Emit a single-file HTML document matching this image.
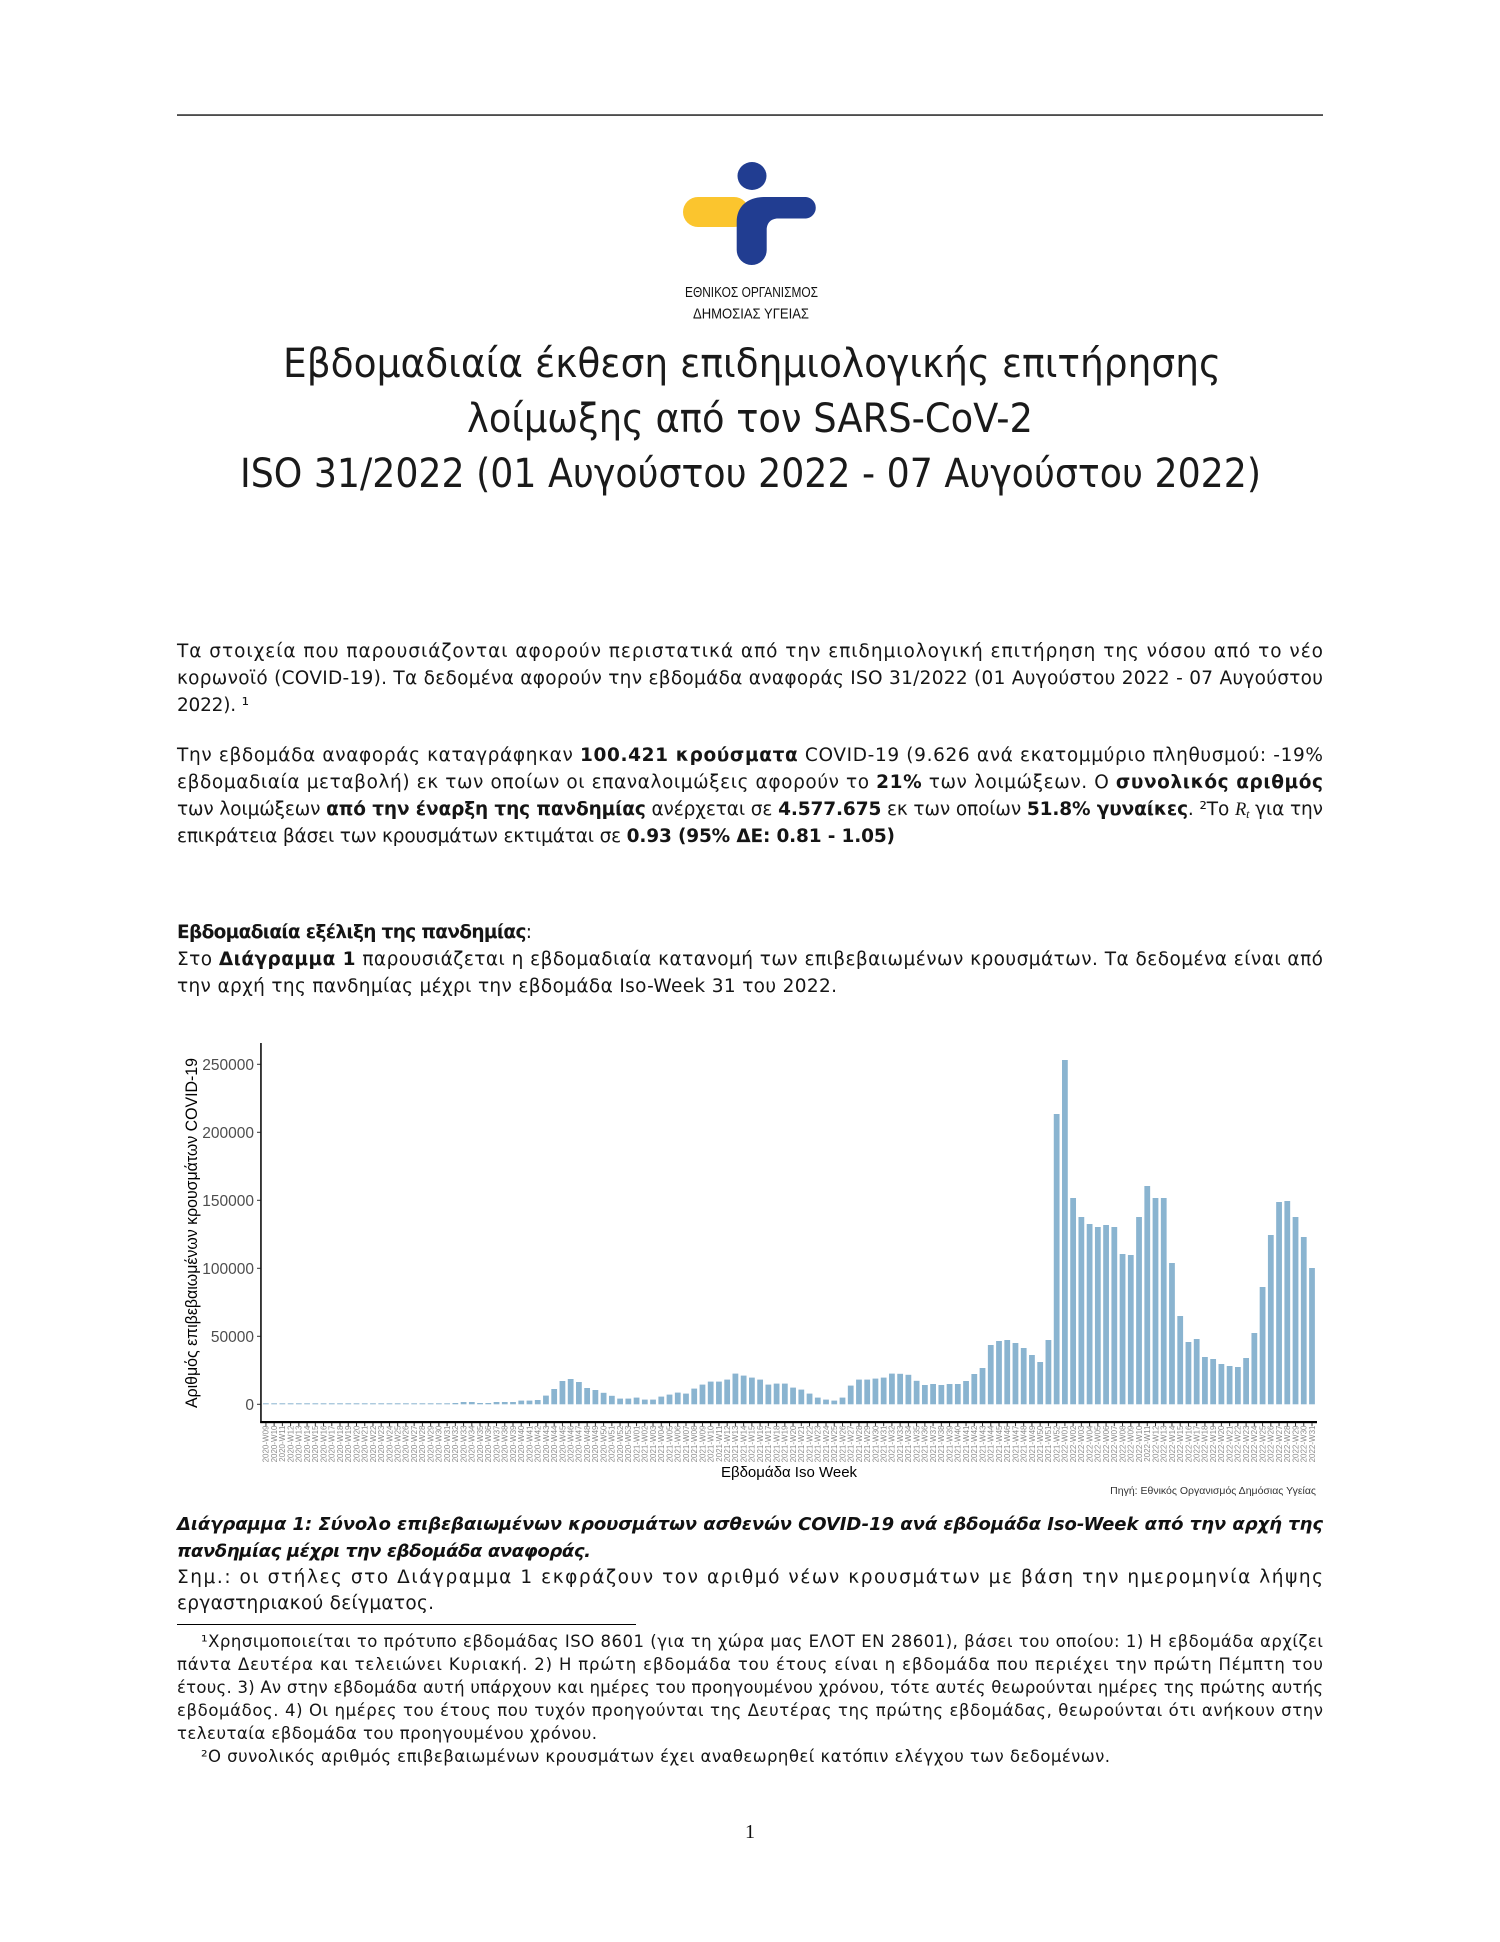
<!DOCTYPE html>
<html>
<head>
<meta charset="utf-8">
<style>
html,body{margin:0;padding:0;background:#fff;}
svg{display:block;}
</style>
</head>
<body>
<svg xmlns="http://www.w3.org/2000/svg" width="1500" height="1942" viewBox="0 0 1500 1942">
<rect x="0" y="0" width="1500" height="1942" fill="#fff"/>
<!-- top rule -->
<rect x="177" y="114.4" width="1146" height="1.3" fill="#000"/>

<!-- logo -->
<rect x="683" y="197" width="66" height="30" rx="15" fill="#fbc52e"/>
<path d="M736.7,255 L736.7,222 C736.7,206 748,197 765,197 L806,197 A10.8,10.8 0 0 1 806,218.5 L778,218.5 C771,218.5 766.7,223 766.7,230 L766.7,250 A15,15 0 0 1 736.7,250 Z" fill="#213d91"/>
<ellipse cx="752" cy="176" rx="14.5" ry="14" fill="#213d91"/>
<text x="685" y="297" font-family="'Liberation Sans',sans-serif" font-size="14.5" fill="#111" textLength="133" lengthAdjust="spacingAndGlyphs">ΕΘΝΙΚΟΣ ΟΡΓΑΝΙΣΜΟΣ</text>
<text x="693" y="318.5" font-family="'Liberation Sans',sans-serif" font-size="14.5" fill="#111" textLength="116" lengthAdjust="spacingAndGlyphs">ΔΗΜΟΣΙΑΣ ΥΓΕΙΑΣ</text>

<!-- title -->
<g font-family="'DejaVu Sans',sans-serif" font-size="40" fill="#1a1a1a">
<text x="283" y="377" textLength="938" lengthAdjust="spacingAndGlyphs">Εβδομαδιαία έκθεση επιδημιολογικής επιτήρησης</text>
<text x="467" y="432" textLength="566" lengthAdjust="spacingAndGlyphs">λοίμωξης από τον SARS-CoV-2</text>
<text x="240" y="487" textLength="1021" lengthAdjust="spacingAndGlyphs">ISO 31/2022 (01 Αυγούστου 2022 - 07 Αυγούστου 2022)</text>
</g>

<!-- body text -->
<g font-family="'DejaVu Sans',sans-serif" font-size="18.5" fill="#151515">
<text x="177" y="657" textLength="1146" lengthAdjust="spacing">Τα στοιχεία που παρουσιάζονται αφορούν περιστατικά από την επιδημιολογική επιτήρηση της νόσου από το νέο</text>
<text x="177" y="684" textLength="1146" lengthAdjust="spacing">κορωνοϊό (COVID-19). Τα δεδομένα αφορούν την εβδομάδα αναφοράς ISO 31/2022 (01 Αυγούστου 2022 - 07 Αυγούστου</text>
<text x="177" y="711" textLength="72" lengthAdjust="spacing">2022). ¹</text>

<text x="177" y="761" textLength="1146" lengthAdjust="spacing">Την εβδομάδα αναφοράς καταγράφηκαν <tspan font-weight="bold">100.421 κρούσματα</tspan> COVID-19 (9.626 ανά εκατομμύριο πληθυσμού: -19%</text>
<text x="177" y="788" textLength="1146" lengthAdjust="spacing">εβδομαδιαία μεταβολή) εκ των οποίων οι επαναλοιμώξεις αφορούν το <tspan font-weight="bold">21%</tspan> των λοιμώξεων. Ο <tspan font-weight="bold">συνολικός αριθμός</tspan></text>
<text x="177" y="815" textLength="1146" lengthAdjust="spacing">των λοιμώξεων <tspan font-weight="bold">από την έναρξη της πανδημίας</tspan> ανέρχεται σε <tspan font-weight="bold">4.577.675</tspan> εκ των οποίων <tspan font-weight="bold">51.8% γυναίκες</tspan>. ²Το <tspan font-family="'Liberation Serif',serif" font-style="italic">R</tspan><tspan font-family="'Liberation Serif',serif" font-style="italic" font-size="12" dy="3">t</tspan><tspan dy="-3"> για την</tspan></text>
<text x="177" y="842" textLength="718" lengthAdjust="spacing">επικράτεια βάσει των κρουσμάτων εκτιμάται σε <tspan font-weight="bold">0.93 (95% ΔΕ: 0.81 - 1.05)</tspan></text>

<text x="177" y="938" textLength="355" lengthAdjust="spacing"><tspan font-weight="bold">Εβδομαδιαία εξέλιξη της πανδημίας</tspan>:</text>
<text x="177" y="965" textLength="1146" lengthAdjust="spacing">Στο <tspan font-weight="bold">Διάγραμμα 1</tspan> παρουσιάζεται η εβδομαδιαία κατανομή των επιβεβαιωμένων κρουσμάτων. Τα δεδομένα είναι από</text>
<text x="177" y="992" textLength="660" lengthAdjust="spacing">την αρχή της πανδημίας μέχρι την εβδομάδα Iso-Week 31 του 2022.</text>
</g>

<!-- chart -->
<g fill="#8ab4d0">
<rect x="263.02" y="1403.3" width="5.77" height="1"/>
<rect x="271.25" y="1403.3" width="5.77" height="1"/>
<rect x="279.49" y="1403.3" width="5.77" height="1"/>
<rect x="287.73" y="1403.3" width="5.77" height="1"/>
<rect x="295.96" y="1403.3" width="5.77" height="1"/>
<rect x="304.20" y="1403.3" width="5.77" height="1"/>
<rect x="312.44" y="1403.3" width="5.77" height="1"/>
<rect x="320.67" y="1403.3" width="5.77" height="1"/>
<rect x="328.91" y="1403.3" width="5.77" height="1"/>
<rect x="337.15" y="1403.3" width="5.77" height="1"/>
<rect x="345.39" y="1403.3" width="5.77" height="1"/>
<rect x="353.62" y="1403.3" width="5.77" height="1"/>
<rect x="361.86" y="1403.3" width="5.77" height="1"/>
<rect x="370.10" y="1403.3" width="5.77" height="1"/>
<rect x="378.33" y="1403.3" width="5.77" height="1"/>
<rect x="386.57" y="1403.3" width="5.77" height="1"/>
<rect x="394.81" y="1403.3" width="5.77" height="1"/>
<rect x="403.04" y="1403.3" width="5.77" height="1"/>
<rect x="411.28" y="1403.3" width="5.77" height="1"/>
<rect x="419.52" y="1403.3" width="5.77" height="1"/>
<rect x="427.76" y="1403.3" width="5.77" height="1"/>
<rect x="435.99" y="1403.3" width="5.77" height="1"/>
<rect x="444.23" y="1403.3" width="5.77" height="1"/>
<rect x="452.47" y="1403.0" width="5.77" height="1.3"/>
<rect x="460.70" y="1402.0" width="5.77" height="2.3"/>
<rect x="468.94" y="1402.0" width="5.77" height="2.3"/>
<rect x="477.18" y="1403.0" width="5.77" height="1.3"/>
<rect x="485.41" y="1403.0" width="5.77" height="1.3"/>
<rect x="493.65" y="1402.0" width="5.77" height="2.3"/>
<rect x="501.89" y="1402.0" width="5.77" height="2.3"/>
<rect x="510.13" y="1402.0" width="5.77" height="2.3"/>
<rect x="518.36" y="1400.6" width="5.77" height="3.7"/>
<rect x="526.60" y="1400.6" width="5.77" height="3.7"/>
<rect x="534.84" y="1400.0" width="5.77" height="4.3"/>
<rect x="543.07" y="1395.6" width="5.77" height="8.7"/>
<rect x="551.31" y="1389.0" width="5.77" height="15.3"/>
<rect x="559.55" y="1381.0" width="5.77" height="23.3"/>
<rect x="567.78" y="1379.0" width="5.77" height="25.3"/>
<rect x="576.02" y="1382.0" width="5.77" height="22.3"/>
<rect x="584.26" y="1388.0" width="5.77" height="16.3"/>
<rect x="592.50" y="1390.0" width="5.77" height="14.3"/>
<rect x="600.73" y="1392.8" width="5.77" height="11.5"/>
<rect x="608.97" y="1395.8" width="5.77" height="8.5"/>
<rect x="617.21" y="1398.6" width="5.77" height="5.7"/>
<rect x="625.44" y="1398.6" width="5.77" height="5.7"/>
<rect x="633.68" y="1397.6" width="5.77" height="6.7"/>
<rect x="641.92" y="1399.6" width="5.77" height="4.7"/>
<rect x="650.15" y="1399.6" width="5.77" height="4.7"/>
<rect x="658.39" y="1396.6" width="5.77" height="7.7"/>
<rect x="666.63" y="1394.6" width="5.77" height="9.7"/>
<rect x="674.87" y="1392.6" width="5.77" height="11.7"/>
<rect x="683.10" y="1393.6" width="5.77" height="10.7"/>
<rect x="691.34" y="1388.6" width="5.77" height="15.7"/>
<rect x="699.58" y="1384.6" width="5.77" height="19.7"/>
<rect x="707.81" y="1381.6" width="5.77" height="22.7"/>
<rect x="716.05" y="1381.6" width="5.77" height="22.7"/>
<rect x="724.29" y="1379.6" width="5.77" height="24.7"/>
<rect x="732.52" y="1373.6" width="5.77" height="30.7"/>
<rect x="740.76" y="1375.6" width="5.77" height="28.7"/>
<rect x="749.00" y="1377.6" width="5.77" height="26.7"/>
<rect x="757.24" y="1379.6" width="5.77" height="24.7"/>
<rect x="765.47" y="1384.6" width="5.77" height="19.7"/>
<rect x="773.71" y="1383.6" width="5.77" height="20.7"/>
<rect x="781.95" y="1383.6" width="5.77" height="20.7"/>
<rect x="790.18" y="1387.6" width="5.77" height="16.7"/>
<rect x="798.42" y="1389.6" width="5.77" height="14.7"/>
<rect x="806.66" y="1393.6" width="5.77" height="10.7"/>
<rect x="814.89" y="1397.6" width="5.77" height="6.7"/>
<rect x="823.13" y="1399.6" width="5.77" height="4.7"/>
<rect x="831.37" y="1400.6" width="5.77" height="3.7"/>
<rect x="839.61" y="1397.6" width="5.77" height="6.7"/>
<rect x="847.84" y="1385.6" width="5.77" height="18.7"/>
<rect x="856.08" y="1379.6" width="5.77" height="24.7"/>
<rect x="864.32" y="1379.6" width="5.77" height="24.7"/>
<rect x="872.55" y="1378.6" width="5.77" height="25.7"/>
<rect x="880.79" y="1377.6" width="5.77" height="26.7"/>
<rect x="889.03" y="1373.6" width="5.77" height="30.7"/>
<rect x="897.26" y="1373.8" width="5.77" height="30.5"/>
<rect x="905.50" y="1374.8" width="5.77" height="29.5"/>
<rect x="913.74" y="1380.8" width="5.77" height="23.5"/>
<rect x="921.98" y="1385.0" width="5.77" height="19.3"/>
<rect x="930.21" y="1384.0" width="5.77" height="20.3"/>
<rect x="938.45" y="1385.0" width="5.77" height="19.3"/>
<rect x="946.69" y="1384.0" width="5.77" height="20.3"/>
<rect x="954.92" y="1384.0" width="5.77" height="20.3"/>
<rect x="963.16" y="1381.0" width="5.77" height="23.3"/>
<rect x="971.40" y="1374.0" width="5.77" height="30.3"/>
<rect x="979.63" y="1368.0" width="5.77" height="36.3"/>
<rect x="987.87" y="1345.0" width="5.77" height="59.3"/>
<rect x="996.11" y="1341.0" width="5.77" height="63.3"/>
<rect x="1004.35" y="1340.0" width="5.77" height="64.3"/>
<rect x="1012.58" y="1343.0" width="5.77" height="61.3"/>
<rect x="1020.82" y="1348.0" width="5.77" height="56.3"/>
<rect x="1029.06" y="1355.0" width="5.77" height="49.3"/>
<rect x="1037.29" y="1362.0" width="5.77" height="42.3"/>
<rect x="1045.53" y="1340.0" width="5.77" height="64.3"/>
<rect x="1053.77" y="1114.0" width="5.77" height="290.3"/>
<rect x="1062.00" y="1060.0" width="5.77" height="344.3"/>
<rect x="1070.24" y="1198.0" width="5.77" height="206.3"/>
<rect x="1078.48" y="1217.0" width="5.77" height="187.3"/>
<rect x="1086.72" y="1224.0" width="5.77" height="180.3"/>
<rect x="1094.95" y="1227.0" width="5.77" height="177.3"/>
<rect x="1103.19" y="1225.0" width="5.77" height="179.3"/>
<rect x="1111.43" y="1227.0" width="5.77" height="177.3"/>
<rect x="1119.66" y="1254.0" width="5.77" height="150.3"/>
<rect x="1127.90" y="1255.0" width="5.77" height="149.3"/>
<rect x="1136.14" y="1217.0" width="5.77" height="187.3"/>
<rect x="1144.37" y="1186.0" width="5.77" height="218.3"/>
<rect x="1152.61" y="1198.0" width="5.77" height="206.3"/>
<rect x="1160.85" y="1198.0" width="5.77" height="206.3"/>
<rect x="1169.09" y="1263.0" width="5.77" height="141.3"/>
<rect x="1177.32" y="1316.0" width="5.77" height="88.3"/>
<rect x="1185.56" y="1342.0" width="5.77" height="62.3"/>
<rect x="1193.80" y="1339.0" width="5.77" height="65.3"/>
<rect x="1202.03" y="1357.0" width="5.77" height="47.3"/>
<rect x="1210.27" y="1359.0" width="5.77" height="45.3"/>
<rect x="1218.51" y="1364.0" width="5.77" height="40.3"/>
<rect x="1226.74" y="1366.0" width="5.77" height="38.3"/>
<rect x="1234.98" y="1367.0" width="5.77" height="37.3"/>
<rect x="1243.22" y="1358.0" width="5.77" height="46.3"/>
<rect x="1251.46" y="1333.0" width="5.77" height="71.3"/>
<rect x="1259.69" y="1287.0" width="5.77" height="117.3"/>
<rect x="1267.93" y="1235.0" width="5.77" height="169.3"/>
<rect x="1276.17" y="1202.0" width="5.77" height="202.3"/>
<rect x="1284.40" y="1201.0" width="5.77" height="203.3"/>
<rect x="1292.64" y="1217.0" width="5.77" height="187.3"/>
<rect x="1300.88" y="1237.0" width="5.77" height="167.3"/>
<rect x="1309.11" y="1268.0" width="5.77" height="136.3"/>
</g>

<!-- axes -->
<rect x="260.2" y="1043" width="1.5" height="380" fill="#000"/>
<rect x="260.2" y="1421" width="1056.8" height="2.2" fill="#000"/>
<g fill="#333">
<rect x="257" y="1063.8" width="3.5" height="1"/>
<rect x="257" y="1131.8" width="3.5" height="1"/>
<rect x="257" y="1199.8" width="3.5" height="1"/>
<rect x="257" y="1267.8" width="3.5" height="1"/>
<rect x="257" y="1335.8" width="3.5" height="1"/>
<rect x="257" y="1403.8" width="3.5" height="1"/>
</g>
<defs>
<pattern id="xt" patternUnits="userSpaceOnUse" x="265.4" y="1423" width="8.237" height="4">
<rect x="0" y="0" width="1" height="4" fill="#333"/>
</pattern>
</defs>
<rect x="265.4" y="1423" width="1048" height="3.2" fill="url(#xt)"/>

<g font-family="'Liberation Sans',sans-serif" font-size="15.5" fill="#4d4d4d" text-anchor="end">
<text x="254" y="1069.8">250000</text>
<text x="254" y="1137.8">200000</text>
<text x="254" y="1205.8">150000</text>
<text x="254" y="1273.8">100000</text>
<text x="254" y="1341.8">50000</text>
<text x="254" y="1409.8">0</text>
</g>
<text transform="translate(197,1233) rotate(-90)" font-family="'Liberation Sans',sans-serif" font-size="17" fill="#000" text-anchor="middle" textLength="350" lengthAdjust="spacingAndGlyphs">Αριθμός επιβεβαιωμένων κρουσμάτων COVID-19</text>
<text x="789" y="1477" font-family="'Liberation Sans',sans-serif" font-size="15" fill="#000" text-anchor="middle">Εβδομάδα Iso Week</text>
<text x="1316" y="1494" font-family="'Liberation Sans',sans-serif" font-size="10.5" fill="#333" text-anchor="end">Πηγή: Εθνικός Οργανισμός Δημόσιας Υγείας</text>

<g font-family="'Liberation Sans',sans-serif" font-size="8" fill="#8c8c8c" text-anchor="end" transform="rotate(-90)">
<text x="-1425.5" y="268.7">2020-W09</text>
<text x="-1425.5" y="276.9">2020-W10</text>
<text x="-1425.5" y="285.2">2020-W11</text>
<text x="-1425.5" y="293.4">2020-W12</text>
<text x="-1425.5" y="301.7">2020-W13</text>
<text x="-1425.5" y="309.9">2020-W14</text>
<text x="-1425.5" y="318.1">2020-W15</text>
<text x="-1425.5" y="326.4">2020-W16</text>
<text x="-1425.5" y="334.6">2020-W17</text>
<text x="-1425.5" y="342.9">2020-W18</text>
<text x="-1425.5" y="351.1">2020-W19</text>
<text x="-1425.5" y="359.3">2020-W20</text>
<text x="-1425.5" y="367.6">2020-W21</text>
<text x="-1425.5" y="375.8">2020-W22</text>
<text x="-1425.5" y="384.0">2020-W23</text>
<text x="-1425.5" y="392.3">2020-W24</text>
<text x="-1425.5" y="400.5">2020-W25</text>
<text x="-1425.5" y="408.7">2020-W26</text>
<text x="-1425.5" y="417.0">2020-W27</text>
<text x="-1425.5" y="425.2">2020-W28</text>
<text x="-1425.5" y="433.5">2020-W29</text>
<text x="-1425.5" y="441.7">2020-W30</text>
<text x="-1425.5" y="449.9">2020-W31</text>
<text x="-1425.5" y="458.2">2020-W32</text>
<text x="-1425.5" y="466.4">2020-W33</text>
<text x="-1425.5" y="474.6">2020-W34</text>
<text x="-1425.5" y="482.9">2020-W35</text>
<text x="-1425.5" y="491.1">2020-W36</text>
<text x="-1425.5" y="499.4">2020-W37</text>
<text x="-1425.5" y="507.6">2020-W38</text>
<text x="-1425.5" y="515.8">2020-W39</text>
<text x="-1425.5" y="524.1">2020-W40</text>
<text x="-1425.5" y="532.3">2020-W41</text>
<text x="-1425.5" y="540.5">2020-W42</text>
<text x="-1425.5" y="548.8">2020-W43</text>
<text x="-1425.5" y="557.0">2020-W44</text>
<text x="-1425.5" y="565.3">2020-W45</text>
<text x="-1425.5" y="573.5">2020-W46</text>
<text x="-1425.5" y="581.7">2020-W47</text>
<text x="-1425.5" y="590.0">2020-W48</text>
<text x="-1425.5" y="598.2">2020-W49</text>
<text x="-1425.5" y="606.4">2020-W50</text>
<text x="-1425.5" y="614.7">2020-W51</text>
<text x="-1425.5" y="622.9">2020-W52</text>
<text x="-1425.5" y="631.2">2020-W53</text>
<text x="-1425.5" y="639.4">2021-W01</text>
<text x="-1425.5" y="647.6">2021-W02</text>
<text x="-1425.5" y="655.9">2021-W03</text>
<text x="-1425.5" y="664.1">2021-W04</text>
<text x="-1425.5" y="672.3">2021-W05</text>
<text x="-1425.5" y="680.6">2021-W06</text>
<text x="-1425.5" y="688.8">2021-W07</text>
<text x="-1425.5" y="697.0">2021-W08</text>
<text x="-1425.5" y="705.3">2021-W09</text>
<text x="-1425.5" y="713.5">2021-W10</text>
<text x="-1425.5" y="721.8">2021-W11</text>
<text x="-1425.5" y="730.0">2021-W12</text>
<text x="-1425.5" y="738.2">2021-W13</text>
<text x="-1425.5" y="746.5">2021-W14</text>
<text x="-1425.5" y="754.7">2021-W15</text>
<text x="-1425.5" y="762.9">2021-W16</text>
<text x="-1425.5" y="771.2">2021-W17</text>
<text x="-1425.5" y="779.4">2021-W18</text>
<text x="-1425.5" y="787.7">2021-W19</text>
<text x="-1425.5" y="795.9">2021-W20</text>
<text x="-1425.5" y="804.1">2021-W21</text>
<text x="-1425.5" y="812.4">2021-W22</text>
<text x="-1425.5" y="820.6">2021-W23</text>
<text x="-1425.5" y="828.8">2021-W24</text>
<text x="-1425.5" y="837.1">2021-W25</text>
<text x="-1425.5" y="845.3">2021-W26</text>
<text x="-1425.5" y="853.5">2021-W27</text>
<text x="-1425.5" y="861.8">2021-W28</text>
<text x="-1425.5" y="870.0">2021-W29</text>
<text x="-1425.5" y="878.3">2021-W30</text>
<text x="-1425.5" y="886.5">2021-W31</text>
<text x="-1425.5" y="894.7">2021-W32</text>
<text x="-1425.5" y="903.0">2021-W33</text>
<text x="-1425.5" y="911.2">2021-W34</text>
<text x="-1425.5" y="919.4">2021-W35</text>
<text x="-1425.5" y="927.7">2021-W36</text>
<text x="-1425.5" y="935.9">2021-W37</text>
<text x="-1425.5" y="944.2">2021-W38</text>
<text x="-1425.5" y="952.4">2021-W39</text>
<text x="-1425.5" y="960.6">2021-W40</text>
<text x="-1425.5" y="968.9">2021-W41</text>
<text x="-1425.5" y="977.1">2021-W42</text>
<text x="-1425.5" y="985.3">2021-W43</text>
<text x="-1425.5" y="993.6">2021-W44</text>
<text x="-1425.5" y="1001.8">2021-W45</text>
<text x="-1425.5" y="1010.1">2021-W46</text>
<text x="-1425.5" y="1018.3">2021-W47</text>
<text x="-1425.5" y="1026.5">2021-W48</text>
<text x="-1425.5" y="1034.8">2021-W49</text>
<text x="-1425.5" y="1043.0">2021-W50</text>
<text x="-1425.5" y="1051.2">2021-W51</text>
<text x="-1425.5" y="1059.5">2021-W52</text>
<text x="-1425.5" y="1067.7">2022-W01</text>
<text x="-1425.5" y="1075.9">2022-W02</text>
<text x="-1425.5" y="1084.2">2022-W03</text>
<text x="-1425.5" y="1092.4">2022-W04</text>
<text x="-1425.5" y="1100.7">2022-W05</text>
<text x="-1425.5" y="1108.9">2022-W06</text>
<text x="-1425.5" y="1117.1">2022-W07</text>
<text x="-1425.5" y="1125.4">2022-W08</text>
<text x="-1425.5" y="1133.6">2022-W09</text>
<text x="-1425.5" y="1141.8">2022-W10</text>
<text x="-1425.5" y="1150.1">2022-W11</text>
<text x="-1425.5" y="1158.3">2022-W12</text>
<text x="-1425.5" y="1166.6">2022-W13</text>
<text x="-1425.5" y="1174.8">2022-W14</text>
<text x="-1425.5" y="1183.0">2022-W15</text>
<text x="-1425.5" y="1191.3">2022-W16</text>
<text x="-1425.5" y="1199.5">2022-W17</text>
<text x="-1425.5" y="1207.7">2022-W18</text>
<text x="-1425.5" y="1216.0">2022-W19</text>
<text x="-1425.5" y="1224.2">2022-W20</text>
<text x="-1425.5" y="1232.4">2022-W21</text>
<text x="-1425.5" y="1240.7">2022-W22</text>
<text x="-1425.5" y="1248.9">2022-W23</text>
<text x="-1425.5" y="1257.2">2022-W24</text>
<text x="-1425.5" y="1265.4">2022-W25</text>
<text x="-1425.5" y="1273.6">2022-W26</text>
<text x="-1425.5" y="1281.9">2022-W27</text>
<text x="-1425.5" y="1290.1">2022-W28</text>
<text x="-1425.5" y="1298.3">2022-W29</text>
<text x="-1425.5" y="1306.6">2022-W30</text>
<text x="-1425.5" y="1314.8">2022-W31</text>
</g>

<!-- caption -->
<g font-family="'DejaVu Sans',sans-serif" font-size="18" font-weight="bold" font-style="italic" fill="#111">
<text x="177" y="1530" textLength="1146" lengthAdjust="spacing">Διάγραμμα 1: Σύνολο επιβεβαιωμένων κρουσμάτων ασθενών COVID-19 ανά εβδομάδα Iso-Week από την αρχή της</text>
<text x="177" y="1557" textLength="414" lengthAdjust="spacing">πανδημίας μέχρι την εβδομάδα αναφοράς.</text>
</g>
<g font-family="'DejaVu Sans',sans-serif" font-size="18.5" fill="#151515">
<text x="177" y="1583" textLength="1146" lengthAdjust="spacing">Σημ.: οι στήλες στο Διάγραμμα 1 εκφράζουν τον αριθμό νέων κρουσμάτων με βάση την ημερομηνία λήψης</text>
<text x="177" y="1609" textLength="257" lengthAdjust="spacing">εργαστηριακού δείγματος.</text>
</g>

<!-- footnotes -->
<rect x="177" y="1624" width="459" height="1" fill="#000"/>
<g font-family="'DejaVu Sans',sans-serif" font-size="16.5" fill="#151515">
<text x="201" y="1647" textLength="1122" lengthAdjust="spacing">¹Χρησιμοποιείται το πρότυπο εβδομάδας ISO 8601 (για τη χώρα μας ΕΛΟΤ ΕΝ 28601), βάσει του οποίου: 1) Η εβδομάδα αρχίζει</text>
<text x="177" y="1670" textLength="1146" lengthAdjust="spacing">πάντα Δευτέρα και τελειώνει Κυριακή. 2) Η πρώτη εβδομάδα του έτους είναι η εβδομάδα που περιέχει την πρώτη Πέμπτη του</text>
<text x="177" y="1693" textLength="1146" lengthAdjust="spacing">έτους. 3) Αν στην εβδομάδα αυτή υπάρχουν και ημέρες του προηγουμένου χρόνου, τότε αυτές θεωρούνται ημέρες της πρώτης αυτής</text>
<text x="177" y="1716" textLength="1146" lengthAdjust="spacing">εβδομάδος. 4) Οι ημέρες του έτους που τυχόν προηγούνται της Δευτέρας της πρώτης εβδομάδας, θεωρούνται ότι ανήκουν στην</text>
<text x="177" y="1739" textLength="420" lengthAdjust="spacing">τελευταία εβδομάδα του προηγουμένου χρόνου.</text>
<text x="201" y="1762" textLength="909" lengthAdjust="spacing">²Ο συνολικός αριθμός επιβεβαιωμένων κρουσμάτων έχει αναθεωρηθεί κατόπιν ελέγχου των δεδομένων.</text>
</g>

<!-- page number -->
<text x="750" y="1838" font-family="'Liberation Serif',serif" font-size="20" fill="#111" text-anchor="middle">1</text>
</svg>
</body>
</html>
